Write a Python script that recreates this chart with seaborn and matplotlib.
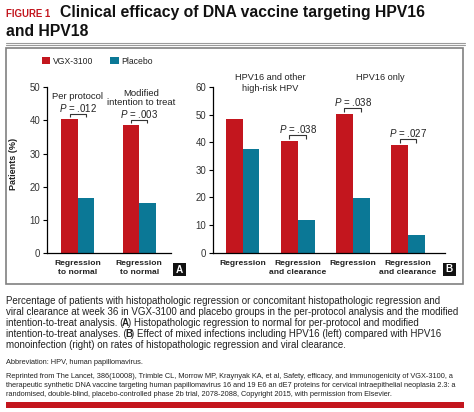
import matplotlib
matplotlib.use("Agg")
import numpy as np
import pandas as pd
import seaborn as sns
import matplotlib.pyplot as plt
from matplotlib.patches import Rectangle, Patch
from matplotlib.lines import Line2D
import matplotlib.transforms as mtransforms

# ---------------- data ----------------
groups = ["VGX-3100", "Placebo"]

a_categories = ["Per protocol", "Modified intention to treat"]
a_xlabels = ["Regression\nto normal", "Regression\nto normal"]
a_headers = ["Per protocol", "Modified\nintention to treat"]
a_vgx = [40.3, 38.5]
a_placebo = [16.6, 14.9]
a_pvalues = [".012", ".003"]

b_categories = ["Other: regression", "Other: regression and clearance",
                "Only: regression", "Only: regression and clearance"]
b_xlabels = ["Regression", "Regression\nand clearance", "Regression", "Regression\nand clearance"]
b_headers = ["HPV16 and other\nhigh-risk HPV", "HPV16 only"]
b_vgx = [48.5, 40.5, 50.3, 39.0]
b_placebo = [37.6, 11.9, 19.8, 6.4]
b_pvalues = [None, ".038", ".038", ".027"]

# caption: list of (text, bold) segments per line
caption_lines = [
    [("Percentage of patients with histopathologic regression or concomitant histopathologic regression and", False)],
    [("viral clearance at week 36 in VGX-3100 and placebo groups in the per-protocol analysis and the modified", False)],
    [("intention-to-treat analysis. (", False), ("A", True),
     (") Histopathologic regression to normal for per-protocol and modified", False)],
    [("intention-to-treat analyses. (", False), ("B", True),
     (") Effect of mixed infections including HPV16 (left) compared with HPV16", False)],
    [("monoinfection (right) on rates of histopathologic regression and viral clearance.", False)],
]
abbrev = "Abbreviation: HPV, human papillomavirus."
reprint_lines = [
    "Reprinted from The Lancet, 386(10008), Trimble CL, Morrow MP, Kraynyak KA, et al, Safety, efficacy, and immunogenicity of VGX-3100, a",
    "therapeutic synthetic DNA vaccine targeting human papillomavirus 16 and 19 E6 an dE7 proteins for cervical intraepithelial neoplasia 2.3: a",
    "randomised, double-blind, placebo-controlled phase 2b trial, 2078-2088, Copyright 2015, with permission from Elsevier.",
]

RED = "#C3161E"
BLUE = "#0B7896"
palette = {"VGX-3100": RED, "Placebo": BLUE}

# ---------------- style ----------------
sns.set_theme(style="white")
plt.rcParams["font.family"] = ["Liberation Sans", "DejaVu Sans"]
plt.rcParams["mathtext.fontset"] = "custom"
plt.rcParams["mathtext.rm"] = "Liberation Sans"
plt.rcParams["mathtext.it"] = "Liberation Sans:italic"
plt.rcParams["mathtext.bf"] = "Liberation Sans:bold"

W, H = 474, 412
fig = plt.figure(figsize=(W / 100, H / 100), dpi=100)
fig.patch.set_facecolor("white")
renderer = fig.canvas.get_renderer()


def fx(x):
    return x / W


def fy(y):
    return 1 - y / H


def long_df(cats, vgx, plc):
    return pd.DataFrame({
        "category": list(cats) * 2,
        "group": ["VGX-3100"] * len(cats) + ["Placebo"] * len(cats),
        "value": list(vgx) + list(plc),
    })


def style_axis(ax, ymax, xlabels, minor_pos):
    ax.set_ylim(0, ymax)
    ax.set_yticks(np.arange(0, ymax + 1, 10))
    ax.set_xticks(range(len(xlabels)))
    ax.set_xticklabels(xlabels, fontsize=6.1, fontweight="bold", color="#222222", linespacing=1.45)
    ax.set_xticks(minor_pos, minor=True)
    ax.tick_params(axis="x", which="major", length=0, pad=5)
    ax.tick_params(axis="x", which="minor", length=3, width=0.8, color="black", direction="out")
    ax.tick_params(axis="y", length=3, width=0.8, color="black", direction="out",
                   labelsize=6.9, labelcolor="#333333", pad=2, left=True)
    for s in ["top", "right"]:
        ax.spines[s].set_visible(False)
    for s in ["left", "bottom"]:
        ax.spines[s].set_color("black")
        ax.spines[s].set_linewidth(0.9)
    ax.set_xlabel("")
    ax.set_ylabel("")
    ax.set_facecolor("white")


def add_pvals(ax, vgx, pvals, width, h_px):
    ylo, yhi = ax.get_ylim()
    upp = (yhi - ylo) / h_px
    tops = []
    for i, (v, p) in enumerate(zip(vgx, pvals)):
        top = v + 5.5 * upp
        tops.append(top)
        if p is None:
            continue
        x0 = i - width / 4
        x1 = i + width / 4
        leg = 3.5 * upp
        ax.plot([x0, x0, x1, x1], [top - leg, top, top, top - leg], color="#333333",
                lw=0.8, solid_capstyle="butt", clip_on=False)
        ax.annotate(r"$P$ = " + p, xy=(i, top), xytext=(0, 6), textcoords="offset pixels",
                    ha="center", va="center", fontsize=7.0, color="#222222",
                    annotation_clip=False)
    return tops


# ---------------- panel A ----------------
a_left, a_right, a_top, a_bottom = 47.3, 171.0, 87.4, 252.7
axA = fig.add_axes([fx(a_left), fy(a_bottom), (a_right - a_left) / W, (a_bottom - a_top) / H])
wA = 0.54
sns.barplot(data=long_df(a_categories, a_vgx, a_placebo), x="category", y="value", hue="group",
            order=a_categories, hue_order=groups, palette=palette, width=wA, saturation=1,
            errorbar=None, legend=False, linewidth=0, ax=axA)
style_axis(axA, 50, a_xlabels, [0.5])
axA.set_xlim(-0.5, 1.52)
axA.set_ylabel("Patients (%)", fontsize=6.5, fontweight="bold", color="#222222")
axA.yaxis.set_label_coords(-0.237, 0.54)
topsA = add_pvals(axA, a_vgx, a_pvalues, wA, a_bottom - a_top)
for i, (t, hdr) in enumerate(zip(topsA, a_headers)):
    axA.annotate(hdr, xy=(i, t), xytext=(2 if i else 0, 12.5), textcoords="offset pixels",
                 ha="center", va="bottom", fontsize=6.8, color="#222222", linespacing=1.1,
                 multialignment="center", annotation_clip=False)

# ---------------- panel B ----------------
b_left, b_right, b_top, b_bottom = 213.3, 445.0, 87.0, 252.7
axB = fig.add_axes([fx(b_left), fy(b_bottom), (b_right - b_left) / W, (b_bottom - b_top) / H])
wB = 0.61
sns.barplot(data=long_df(b_categories, b_vgx, b_placebo), x="category", y="value", hue="group",
            order=b_categories, hue_order=groups, palette=palette, width=wB, saturation=1,
            errorbar=None, legend=False, linewidth=0, ax=axB)
style_axis(axB, 60, b_xlabels, [0.5, 1.5, 2.5])
axB.set_xlim(-0.53, 3.67)
add_pvals(axB, b_vgx, b_pvalues, wB, b_bottom - b_top)
blend = mtransforms.blended_transform_factory(axB.transData, fig.transFigure)
axB.text(0.5, fy(83.3), b_headers[0], transform=blend, ha="center", va="center",
         fontsize=6.6, color="#222222", linespacing=1.3, multialignment="center")
axB.text(2.5, fy(77.3), b_headers[1], transform=blend, ha="center", va="center",
         fontsize=6.6, color="#222222")

# ---------------- legend ----------------
handles = [Patch(facecolor=palette[g], edgecolor="none", label=g) for g in groups]
fig.legend(handles=handles, loc="center left", bbox_to_anchor=(fx(42), fy(61)), ncol=2,
           frameon=False, fontsize=6.2, handlelength=0.95, handleheight=0.75,
           handletextpad=0.3, columnspacing=2.0, borderpad=0, borderaxespad=0,
           labelcolor="#222222")

# ---------------- panel tags ----------------
for (x0, y0, s) in [(173, 263, "A"), (443, 262.5, "B")]:
    fig.add_artist(Rectangle((fx(x0), fy(y0 + 13)), 13 / W, 13 / H, transform=fig.transFigure,
                             facecolor="#111111", edgecolor="none"))
    fig.text(fx(x0 + 6.5), fy(y0 + 6.7), s, color="white", fontsize=7.2, fontweight="bold",
             ha="center", va="center")

# ---------------- frame / title ----------------
fig.add_artist(Rectangle((fx(6), fy(284)), (463 - 6) / W, (284 - 47.7) / H, transform=fig.transFigure,
                         fill=False, edgecolor="#808080", lw=1.2))
fig.text(fx(6), fy(17), "FIGURE 1", color=RED, fontsize=6.9, fontweight="bold", va="baseline")
fig.text(fx(60), fy(17), "Clinical efficacy of DNA vaccine targeting HPV16", color="#111111",
         fontsize=11.3, fontweight="bold", va="baseline")
fig.text(fx(6), fy(36), "and HPV18", color="#111111", fontsize=11.3, fontweight="bold", va="baseline")
for yy in (42.6, 44.6):
    fig.add_artist(Line2D([fx(6), fx(465)], [fy(yy), fy(yy)], transform=fig.transFigure,
                          color="#9a9a9a", lw=0.8))

# ---------------- caption ----------------
CAP_FS = 7.05
for i, segs in enumerate(caption_lines):
    xpos = fx(6)
    for text, bold in segs:
        t = fig.text(xpos, fy(303.5 + 11.1 * i), text, fontsize=CAP_FS, color="#222222",
                     va="baseline", fontweight="bold" if bold else "normal")
        bb = t.get_window_extent(renderer)
        xpos += (bb.width - 1.2) / W
fig.text(fx(6), fy(363.5), abbrev, fontsize=5.35, color="#222222", va="baseline")
for i, line in enumerate(reprint_lines):
    fig.text(fx(6), fy(377.5 + 9.1 * i), line, fontsize=5.35, color="#222222", va="baseline")
fig.add_artist(Rectangle((fx(6), fy(407.7)), (464 - 6) / W, 5.4 / H, transform=fig.transFigure,
                         facecolor=RED, edgecolor="none"))

fig.savefig("out.png", dpi=100, facecolor="white")
